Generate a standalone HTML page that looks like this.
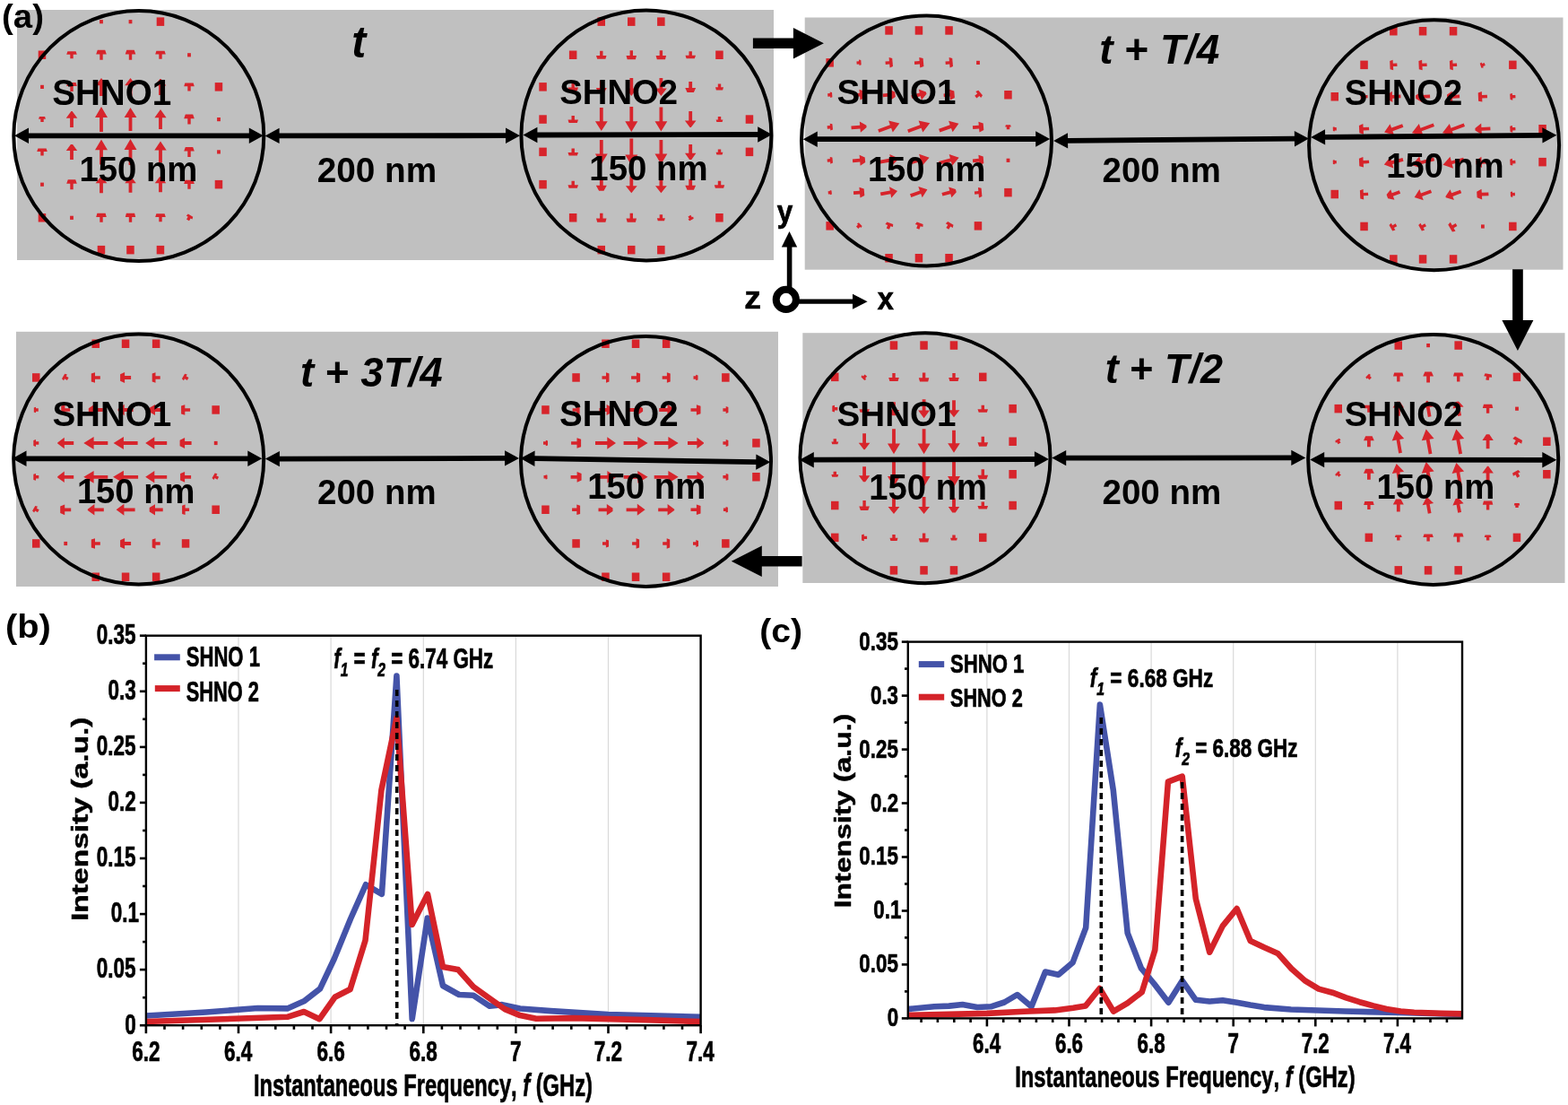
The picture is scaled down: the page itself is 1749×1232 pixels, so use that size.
<!DOCTYPE html>
<html><head><meta charset="utf-8"><style>
html,body{margin:0;padding:0;background:#fff;overflow:hidden;width:1749px;height:1232px;}
svg{display:block;}
text{font-family:"Liberation Sans",Arial,sans-serif;font-weight:bold;font-kerning:none;}
</style></head><body>
<svg width="1749" height="1232" viewBox="0 0 1749 1232">
<rect width="1749" height="1232" fill="#fff"/>
<rect x="19.0" y="11.0" width="844.0" height="279.0" fill="#c0c0c0"/>
<rect x="897.7" y="19.5" width="845.8" height="281.2" fill="#c0c0c0"/>
<rect x="18.0" y="369.8" width="850.0" height="284.2" fill="#c0c0c0"/>
<rect x="895.3" y="371.2" width="850.2" height="278.8" fill="#c0c0c0"/>
<g fill="#d7242b"><rect x="111.1" y="22.1" width="3.8" height="4.2"/><rect x="143.6" y="22.1" width="3.8" height="4.2"/><rect x="174.7" y="19.4" width="8.5" height="9.5"/><rect x="42.7" y="56.5" width="8.5" height="9.5"/><polygon points="78.3,65.3 78.3,60.8 74.2,60.8 75.4,57.3 84.6,57.3 85.8,60.8 81.7,60.8 81.7,65.3"/><polygon points="111.3,66.8 111.3,60.4 107.2,60.4 108.8,55.8 117.2,55.8 118.8,60.4 114.7,60.4 114.7,66.8"/><polygon points="143.8,66.8 143.8,60.4 139.7,60.4 141.3,55.8 149.7,55.8 151.3,60.4 147.2,60.4 147.2,66.8"/><polygon points="177.3,65.8 177.3,60.6 173.2,60.6 174.4,56.8 183.6,56.8 184.8,60.6 180.7,60.6 180.7,65.8"/><rect x="209.1" y="59.2" width="3.8" height="4.2"/><rect x="45.1" y="94.8" width="3.8" height="4.2"/><polygon points="78.3,101.9 78.3,96.1 74.2,96.1 75.4,91.9 84.6,91.9 85.8,96.1 81.7,96.1 81.7,101.9"/><polygon points="111.1,106.9 111.1,95.3 106.6,95.3 113.0,86.9 119.4,95.3 114.9,95.3 114.9,106.9"/><polygon points="143.6,106.9 143.6,95.3 139.1,95.3 145.5,86.9 151.9,95.3 147.4,95.3 147.4,106.9"/><polygon points="177.1,105.9 177.1,95.5 172.7,95.5 178.4,87.9 179.6,87.9 185.3,95.5 180.9,95.5 180.9,105.9"/><polygon points="209.3,101.4 209.3,96.2 205.2,96.2 206.4,92.4 215.6,92.4 216.8,96.2 212.7,96.2 212.7,101.4"/><rect x="239.7" y="92.1" width="8.5" height="9.5"/><polygon points="45.3,136.1 45.3,132.8 43.1,132.8 43.9,130.1 50.1,130.1 50.9,132.8 48.7,132.8 48.7,136.1"/><polygon points="78.1,142.1 78.1,131.7 73.7,131.7 79.4,124.1 80.6,124.1 86.3,131.7 81.9,131.7 81.9,142.1"/><polygon points="111.1,147.1 111.1,130.9 106.0,130.9 113.0,119.1 120.0,130.9 114.9,130.9 114.9,147.1"/><polygon points="143.6,146.1 143.6,131.0 138.6,131.0 145.5,120.1 152.4,131.0 147.4,131.0 147.4,146.1"/><polygon points="177.1,144.1 177.1,131.3 172.4,131.3 179.0,122.1 185.6,131.3 180.9,131.3 180.9,144.1"/><polygon points="209.3,138.6 209.3,132.2 205.2,132.2 206.8,127.6 215.2,127.6 216.8,132.2 212.7,132.2 212.7,138.6"/><rect x="242.1" y="131.0" width="3.8" height="4.2"/><polygon points="45.3,173.4 45.3,168.9 41.2,168.9 42.4,165.4 51.6,165.4 52.8,168.9 48.7,168.9 48.7,173.4"/><polygon points="78.1,177.9 78.1,168.0 73.8,168.0 78.9,160.9 81.1,160.9 86.2,168.0 81.9,168.0 81.9,177.9"/><polygon points="111.1,183.4 111.1,167.2 106.0,167.2 113.0,155.4 120.0,167.2 114.9,167.2 114.9,183.4"/><polygon points="143.6,183.9 143.6,166.9 138.5,166.9 145.5,154.9 152.5,166.9 147.4,166.9 147.4,183.9"/><polygon points="177.1,181.4 177.1,167.5 172.3,167.5 179.0,157.4 185.7,167.5 180.9,167.5 180.9,181.4"/><polygon points="209.3,174.9 209.3,168.5 205.2,168.5 206.8,163.9 215.2,163.9 216.8,168.5 212.7,168.5 212.7,174.9"/><rect x="242.1" y="167.3" width="3.8" height="4.2"/><rect x="45.1" y="203.6" width="3.8" height="4.2"/><polygon points="78.3,211.2 78.3,204.8 74.2,204.8 75.8,200.2 84.2,200.2 85.8,204.8 81.7,204.8 81.7,211.2"/><polygon points="111.1,215.2 111.1,204.2 106.6,204.2 113.0,196.2 119.4,204.2 114.9,204.2 114.9,215.2"/><polygon points="143.6,214.7 143.6,204.3 139.2,204.3 144.9,196.7 146.1,196.7 151.8,204.3 147.4,204.3 147.4,214.7"/><polygon points="177.1,214.2 177.1,204.3 172.8,204.3 177.9,197.2 180.1,197.2 185.2,204.3 180.9,204.3 180.9,214.2"/><polygon points="209.3,210.7 209.3,204.9 205.2,204.9 206.4,200.7 215.6,200.7 216.8,204.9 212.7,204.9 212.7,210.7"/><rect x="239.7" y="200.9" width="8.5" height="9.5"/><rect x="42.7" y="238.0" width="8.5" height="9.5"/><rect x="78.1" y="240.7" width="3.8" height="4.2"/><polygon points="111.3,247.8 111.3,242.0 107.2,242.0 108.4,237.8 117.6,237.8 118.8,242.0 114.7,242.0 114.7,247.8"/><polygon points="143.8,247.8 143.8,242.0 139.8,242.0 140.9,237.8 150.1,237.8 151.2,242.0 147.2,242.0 147.2,247.8"/><polygon points="177.3,247.3 177.3,242.1 173.2,242.1 174.4,238.3 183.6,238.3 184.8,242.1 180.7,242.1 180.7,247.3"/><polygon points="208.0,244.5 209.7,241.7 207.8,240.6 209.8,238.6 215.2,241.8 214.5,244.5 212.6,243.4 211.0,246.2"/><rect x="108.7" y="273.9" width="8.5" height="9.5"/><rect x="141.2" y="273.9" width="8.5" height="9.5"/><rect x="174.7" y="273.9" width="8.5" height="9.5"/></g>
<g fill="#d7242b"><rect x="666.5" y="19.4" width="8.5" height="9.5"/><rect x="700.0" y="19.4" width="8.5" height="9.5"/><rect x="733.1" y="19.4" width="8.5" height="9.5"/><rect x="634.9" y="56.5" width="8.5" height="9.5"/><polygon points="672.5,56.8 672.5,62.0 676.5,62.0 675.4,65.8 666.2,65.8 665.0,62.0 669.1,62.0 669.1,56.8"/><polygon points="706.0,56.3 706.0,62.1 710.0,62.1 708.9,66.3 699.7,66.3 698.5,62.1 702.6,62.1 702.6,56.3"/><polygon points="739.1,56.3 739.1,62.1 743.1,62.1 742.0,66.3 732.8,66.3 731.6,62.1 735.7,62.1 735.7,56.3"/><polygon points="771.9,57.3 771.9,61.8 776.0,61.8 774.8,65.3 765.6,65.3 764.5,61.8 768.5,61.8 768.5,57.3"/><rect x="798.2" y="56.5" width="8.5" height="9.5"/><rect x="601.3" y="92.1" width="8.5" height="9.5"/><polygon points="640.9,92.9 640.9,97.4 645.0,97.4 643.8,100.9 634.6,100.9 633.5,97.4 637.5,97.4 637.5,92.9"/><polygon points="672.7,89.9 672.7,98.0 676.8,98.0 673.5,103.9 668.1,103.9 664.8,98.0 668.9,98.0 668.9,89.9"/><polygon points="706.2,86.9 706.2,98.5 710.7,98.5 704.3,106.9 697.9,98.5 702.4,98.5 702.4,86.9"/><polygon points="739.3,86.9 739.3,98.5 743.8,98.5 737.4,106.9 731.0,98.5 735.5,98.5 735.5,86.9"/><polygon points="772.1,90.9 772.1,97.9 776.1,97.9 773.9,102.9 766.5,102.9 764.3,97.9 768.3,97.9 768.3,90.9"/><polygon points="804.2,93.4 804.2,97.2 807.0,97.2 806.1,100.4 798.9,100.4 798.0,97.2 800.8,97.2 800.8,93.4"/><rect x="601.3" y="128.3" width="8.5" height="9.5"/><polygon points="640.9,129.1 640.9,133.6 645.0,133.6 643.8,137.1 634.6,137.1 633.5,133.6 637.5,133.6 637.5,129.1"/><polygon points="672.7,120.1 672.7,135.2 677.7,135.2 670.8,146.1 663.9,135.2 668.9,135.2 668.9,120.1"/><polygon points="706.2,119.1 706.2,135.3 711.3,135.3 704.3,147.1 697.3,135.3 702.4,135.3 702.4,119.1"/><polygon points="739.3,119.6 739.3,135.3 744.3,135.3 737.4,146.6 730.5,135.3 735.5,135.3 735.5,119.6"/><polygon points="772.1,124.1 772.1,134.5 776.5,134.5 770.8,142.1 769.6,142.1 763.9,134.5 768.3,134.5 768.3,124.1"/><polygon points="804.2,130.1 804.2,133.4 806.4,133.4 805.6,136.1 799.4,136.1 798.6,133.4 800.8,133.4 800.8,130.1"/><rect x="831.7" y="128.3" width="8.5" height="9.5"/><rect x="601.3" y="164.6" width="8.5" height="9.5"/><polygon points="640.9,165.4 640.9,169.9 645.0,169.9 643.8,173.4 634.6,173.4 633.5,169.9 637.5,169.9 637.5,165.4"/><polygon points="672.7,155.9 672.7,171.6 677.7,171.6 670.8,182.9 663.9,171.6 668.9,171.6 668.9,155.9"/><polygon points="706.2,154.4 706.2,172.4 711.3,172.4 704.3,184.4 697.3,172.4 702.4,172.4 702.4,154.4"/><polygon points="739.3,155.9 739.3,171.6 744.3,171.6 737.4,182.9 730.5,171.6 735.5,171.6 735.5,155.9"/><polygon points="772.1,160.9 772.1,170.8 776.4,170.8 771.3,177.9 769.1,177.9 764.0,170.8 768.3,170.8 768.3,160.9"/><polygon points="804.2,166.4 804.2,169.7 806.4,169.7 805.6,172.4 799.4,172.4 798.6,169.7 800.8,169.7 800.8,166.4"/><rect x="831.7" y="164.6" width="8.5" height="9.5"/><rect x="601.3" y="200.9" width="8.5" height="9.5"/><polygon points="640.9,201.7 640.9,206.2 645.0,206.2 643.8,209.7 634.6,209.7 633.5,206.2 637.5,206.2 637.5,201.7"/><polygon points="672.7,198.7 672.7,206.8 676.8,206.8 673.5,212.7 668.1,212.7 664.8,206.8 668.9,206.8 668.9,198.7"/><polygon points="706.2,196.2 706.2,207.2 710.7,207.2 704.3,215.2 697.9,207.2 702.4,207.2 702.4,196.2"/><polygon points="739.3,196.2 739.3,207.2 743.8,207.2 737.4,215.2 731.0,207.2 735.5,207.2 735.5,196.2"/><polygon points="772.1,199.7 772.1,206.7 776.1,206.7 773.9,211.7 766.5,211.7 764.3,206.7 768.3,206.7 768.3,199.7"/><polygon points="804.2,201.7 804.2,206.2 808.2,206.2 807.1,209.7 797.9,209.7 796.8,206.2 800.8,206.2 800.8,201.7"/><rect x="634.9" y="238.0" width="8.5" height="9.5"/><polygon points="672.5,237.8 672.5,243.6 676.5,243.6 675.4,247.8 666.2,247.8 665.0,243.6 669.1,243.6 669.1,237.8"/><polygon points="706.0,237.8 706.0,243.6 710.0,243.6 708.9,247.8 699.7,247.8 698.5,243.6 702.6,243.6 702.6,237.8"/><polygon points="739.1,239.3 739.1,243.2 741.9,243.2 741.0,246.3 733.8,246.3 732.9,243.2 735.7,243.2 735.7,239.3"/><polygon points="770.4,239.8 771.8,242.2 773.1,241.4 773.7,243.7 769.2,246.3 767.5,244.6 768.9,243.9 767.5,241.5"/><rect x="798.2" y="238.0" width="8.5" height="9.5"/><rect x="666.5" y="273.9" width="8.5" height="9.5"/><rect x="700.0" y="273.9" width="8.5" height="9.5"/><rect x="733.1" y="273.9" width="8.5" height="9.5"/></g>
<g fill="#d7242b"><rect x="987.3" y="29.2" width="8.5" height="9.5"/><rect x="1020.7" y="29.2" width="8.5" height="9.5"/><rect x="1054.3" y="29.2" width="8.5" height="9.5"/><rect x="921.4" y="65.1" width="8.5" height="9.5"/><polygon points="955.4,68.4 958.1,68.2 958.0,66.6 960.3,67.1 960.7,72.3 958.5,73.1 958.4,71.6 955.7,71.8"/><polygon points="987.5,68.6 991.9,68.2 991.6,64.1 995.2,65.0 996.0,74.1 992.6,75.6 992.2,71.5 987.8,71.9"/><polygon points="1019.9,68.6 1025.6,68.1 1025.3,64.1 1029.6,64.9 1030.4,74.0 1026.3,75.6 1025.9,71.5 1020.2,72.0"/><polygon points="1054.5,68.6 1058.9,68.2 1058.6,64.1 1062.2,65.0 1063.0,74.1 1059.6,75.6 1059.2,71.5 1054.8,71.9"/><rect x="1089.1" y="67.8" width="3.8" height="4.2"/><polygon points="923.1,104.3 925.8,104.1 925.7,102.5 928.0,103.0 928.4,108.2 926.2,109.0 926.1,107.5 923.4,107.7"/><polygon points="951.9,104.4 958.8,103.8 958.4,99.8 963.7,101.5 964.3,109.0 959.5,111.6 959.1,107.6 952.2,108.2"/><polygon points="984.5,104.5 992.6,103.8 992.2,99.7 998.3,102.5 998.8,107.9 993.2,111.7 992.9,107.6 984.8,108.3"/><polygon points="1016.3,106.2 1025.8,103.6 1024.7,99.4 1032.9,102.5 1033.5,104.7 1027.9,111.5 1026.8,107.3 1017.3,109.8"/><polygon points="1052.5,104.4 1059.4,103.8 1059.0,99.8 1064.3,101.5 1064.9,109.0 1060.1,111.6 1059.7,107.6 1052.8,108.2"/><polygon points="1087.2,106.7 1090.2,104.3 1088.3,102.1 1091.3,100.8 1096.0,106.3 1094.2,109.1 1092.4,106.9 1089.4,109.4"/><rect x="1120.2" y="101.0" width="8.5" height="9.5"/><polygon points="922.6,140.3 925.9,140.0 925.7,137.8 928.4,138.3 929.0,144.5 926.3,145.6 926.1,143.4 922.9,143.7"/><polygon points="949.4,140.5 959.2,139.7 958.8,135.4 966.4,139.8 966.6,142.1 959.9,147.8 959.5,143.5 949.7,144.3"/><polygon points="979.2,144.2 992.8,139.2 991.2,134.6 1003.3,137.4 995.8,147.4 994.1,142.8 980.5,147.8"/><polygon points="1012.1,144.4 1026.3,139.2 1024.6,134.5 1037.2,137.3 1029.3,147.4 1027.6,142.8 1013.4,147.9"/><polygon points="1047.1,143.8 1059.7,139.3 1058.1,134.8 1069.4,137.8 1062.6,147.3 1061.0,142.9 1048.4,147.4"/><polygon points="1084.9,140.3 1091.8,139.7 1091.4,135.7 1096.7,137.4 1097.3,144.9 1092.5,147.5 1092.1,143.5 1085.2,144.1"/><polygon points="1122.8,144.2 1122.8,141.4 1121.2,141.4 1121.9,139.2 1127.1,139.2 1127.8,141.4 1126.2,141.4 1126.2,144.2"/><polygon points="922.6,177.4 925.9,177.1 925.7,174.9 928.4,175.4 929.0,181.6 926.3,182.7 926.1,180.5 922.9,180.8"/><polygon points="950.9,177.5 959.0,176.8 958.6,172.7 964.7,175.5 965.2,180.9 959.6,184.7 959.3,180.6 951.2,181.3"/><polygon points="979.9,178.9 993.1,176.6 992.3,171.9 1002.9,176.8 994.6,185.0 993.7,180.4 980.6,182.7"/><polygon points="1012.9,180.1 1026.4,176.5 1025.1,171.8 1036.6,175.7 1028.6,184.8 1027.3,180.1 1013.9,183.7"/><polygon points="1047.0,179.9 1059.9,176.5 1058.7,171.9 1069.7,175.8 1062.1,184.7 1060.9,180.2 1048.0,183.6"/><polygon points="1084.9,177.4 1091.8,176.8 1091.4,172.8 1096.7,174.5 1097.3,182.0 1092.5,184.6 1092.1,180.6 1085.2,181.2"/><rect x="1122.6" y="176.7" width="3.8" height="4.2"/><polygon points="923.6,213.2 925.8,213.0 925.7,212.1 927.5,212.5 927.9,216.6 926.1,217.3 926.0,216.4 923.9,216.6"/><polygon points="951.9,213.3 958.8,212.7 958.4,208.7 963.7,210.4 964.3,217.9 959.5,220.5 959.1,216.5 952.2,217.1"/><polygon points="981.9,214.5 992.8,212.6 992.0,208.2 1001.0,213.1 994.2,220.7 993.4,216.3 982.6,218.2"/><polygon points="1015.0,216.3 1025.9,212.4 1024.3,208.1 1034.4,211.3 1028.7,220.2 1027.2,215.9 1016.3,219.9"/><polygon points="1050.4,214.9 1059.3,212.5 1058.2,208.4 1065.9,211.0 1066.8,214.3 1061.4,220.3 1060.3,216.2 1051.4,218.6"/><polygon points="1086.9,213.4 1091.3,213.0 1091.0,208.9 1094.6,209.8 1095.4,218.9 1092.0,220.4 1091.6,216.3 1087.2,216.7"/><rect x="1120.2" y="209.9" width="8.5" height="9.5"/><rect x="921.4" y="247.1" width="8.5" height="9.5"/><polygon points="955.0,252.5 957.0,250.5 955.9,249.4 957.9,248.3 961.6,252.0 960.5,254.0 959.4,252.9 957.4,254.9"/><polygon points="988.8,254.6 990.1,251.0 987.4,250.0 989.4,247.4 996.2,249.9 996.0,253.1 993.3,252.2 992.0,255.8"/><polygon points="1022.2,254.6 1023.5,251.0 1020.8,250.0 1022.8,247.4 1029.6,249.9 1029.4,253.1 1026.7,252.2 1025.4,255.8"/><polygon points="1055.4,254.1 1057.3,250.7 1054.8,249.3 1057.2,247.0 1063.5,250.7 1062.7,253.9 1060.2,252.4 1058.3,255.8"/><rect x="1086.7" y="247.1" width="8.5" height="9.5"/><rect x="987.3" y="283.0" width="8.5" height="9.5"/><rect x="1020.7" y="283.0" width="8.5" height="9.5"/><rect x="1054.3" y="283.0" width="8.5" height="9.5"/></g>
<g fill="#d7242b"><rect x="1550.1" y="30.0" width="8.5" height="9.5"/><rect x="1582.8" y="30.0" width="8.5" height="9.5"/><rect x="1616.8" y="30.0" width="8.5" height="9.5"/><rect x="1517.3" y="67.6" width="8.5" height="9.5"/><polygon points="1558.5,73.9 1554.0,74.1 1554.2,78.2 1550.6,77.2 1550.2,68.0 1553.6,66.7 1553.8,70.7 1558.3,70.5"/><polygon points="1591.7,73.9 1586.5,74.1 1586.7,78.2 1582.8,77.2 1582.4,68.0 1586.1,66.7 1586.3,70.7 1591.5,70.5"/><polygon points="1625.2,73.9 1620.7,74.1 1620.9,78.2 1617.3,77.2 1616.9,68.0 1620.3,66.7 1620.5,70.7 1625.0,70.5"/><polygon points="1656.8,73.1 1654.2,74.1 1654.8,75.5 1652.4,75.7 1650.7,70.8 1652.6,69.4 1653.1,70.9 1655.7,69.9"/><rect x="1683.1" y="67.6" width="8.5" height="9.5"/><rect x="1484.5" y="103.0" width="8.5" height="9.5"/><polygon points="1525.7,109.3 1521.2,109.5 1521.4,113.6 1517.8,112.6 1517.4,103.4 1520.8,102.1 1521.0,106.1 1525.5,105.9"/><polygon points="1562.5,109.3 1553.2,109.8 1553.4,114.0 1546.5,109.9 1546.3,106.5 1552.8,101.7 1553.0,106.0 1562.3,105.5"/><polygon points="1595.2,109.3 1585.9,109.8 1586.1,114.0 1579.2,109.9 1579.0,106.5 1585.5,101.7 1585.7,106.0 1595.0,105.5"/><polygon points="1628.2,109.3 1620.1,109.8 1620.3,113.9 1614.3,110.9 1614.0,105.4 1619.7,101.8 1619.9,106.0 1628.0,105.5"/><polygon points="1659.0,109.2 1653.2,109.5 1653.4,113.6 1649.1,112.7 1648.7,103.5 1652.8,102.1 1653.0,106.1 1658.8,105.8"/><polygon points="1690.5,109.3 1687.2,109.5 1687.3,111.7 1684.6,111.1 1684.2,104.8 1686.9,103.9 1687.0,106.1 1690.3,105.9"/><polygon points="1490.9,145.4 1488.7,145.5 1488.7,146.4 1486.9,146.0 1486.7,141.8 1488.5,141.2 1488.5,142.1 1490.7,142.0"/><polygon points="1527.2,145.2 1520.8,145.5 1521.0,149.7 1516.3,148.3 1515.9,139.9 1520.4,138.0 1520.6,142.1 1527.0,141.8"/><polygon points="1565.4,141.8 1553.4,146.2 1555.0,150.6 1544.1,147.6 1550.5,138.2 1552.1,142.6 1564.1,138.3"/><polygon points="1600.0,141.1 1585.8,146.3 1587.5,151.0 1574.9,148.2 1582.8,138.1 1584.5,142.7 1598.7,137.6"/><polygon points="1634.0,141.1 1619.8,146.3 1621.5,151.0 1608.9,148.2 1616.8,138.1 1618.5,142.7 1632.7,137.6"/><polygon points="1662.5,145.3 1652.6,145.8 1652.9,150.1 1645.5,145.4 1645.4,143.1 1652.2,137.6 1652.4,142.0 1662.3,141.5"/><polygon points="1690.5,145.3 1687.2,145.5 1687.3,147.7 1684.6,147.1 1684.2,140.8 1686.9,139.9 1687.0,142.1 1690.3,141.9"/><rect x="1716.3" y="139.0" width="8.5" height="9.5"/><polygon points="1490.9,182.3 1488.7,182.4 1488.7,183.3 1486.9,182.9 1486.7,178.7 1488.5,178.1 1488.5,179.0 1490.7,178.9"/><polygon points="1527.2,182.1 1520.8,182.4 1521.0,186.6 1516.3,185.2 1515.9,176.8 1520.4,174.9 1520.6,179.0 1527.0,178.7"/><polygon points="1565.5,179.7 1553.2,183.0 1554.4,187.5 1543.8,183.5 1551.0,174.8 1552.2,179.3 1564.5,176.0"/><polygon points="1600.1,179.2 1585.6,183.1 1586.9,187.9 1574.5,184.1 1583.3,174.6 1584.6,179.4 1599.2,175.5"/><polygon points="1633.2,179.4 1619.7,183.0 1621.0,187.7 1609.5,183.8 1617.5,174.7 1618.8,179.4 1632.2,175.8"/><polygon points="1661.5,182.2 1652.8,182.7 1653.0,186.9 1646.5,183.3 1646.3,178.9 1652.4,174.7 1652.6,178.9 1661.3,178.4"/><polygon points="1690.5,182.2 1687.2,182.4 1687.3,184.6 1684.6,184.0 1684.2,177.7 1686.9,176.8 1687.0,179.0 1690.3,178.8"/><rect x="1716.3" y="175.9" width="8.5" height="9.5"/><rect x="1484.5" y="211.8" width="8.5" height="9.5"/><polygon points="1526.2,218.1 1521.0,218.3 1521.2,222.4 1517.3,221.4 1516.9,212.2 1520.6,210.9 1520.8,214.9 1526.0,214.7"/><polygon points="1562.1,215.8 1553.9,218.8 1555.4,222.7 1548.1,221.2 1546.6,217.1 1551.2,211.3 1552.6,215.2 1560.8,212.2"/><polygon points="1597.1,215.0 1586.2,218.9 1587.8,223.2 1577.7,220.0 1583.4,211.1 1584.9,215.4 1595.8,211.4"/><polygon points="1630.2,215.3 1620.4,218.9 1621.9,223.0 1612.8,220.2 1612.4,219.1 1617.6,211.2 1619.1,215.3 1628.9,211.7"/><polygon points="1660.5,218.2 1653.0,218.6 1653.2,222.6 1647.6,220.2 1647.2,213.7 1652.5,210.7 1652.8,214.8 1660.3,214.4"/><polygon points="1690.0,218.2 1687.2,218.3 1687.3,219.9 1685.0,219.3 1684.8,214.1 1687.0,213.4 1687.1,214.9 1689.8,214.8"/><rect x="1517.3" y="247.7" width="8.5" height="9.5"/><polygon points="1558.3,252.2 1554.9,254.1 1556.4,256.6 1553.2,257.4 1549.5,251.1 1551.8,248.7 1553.2,251.2 1556.6,249.3"/><polygon points="1591.0,252.2 1587.6,254.1 1589.1,256.6 1585.9,257.4 1582.2,251.1 1584.5,248.7 1585.9,251.2 1589.3,249.3"/><polygon points="1625.4,252.0 1621.5,254.2 1623.5,257.7 1619.9,258.5 1615.3,250.5 1617.8,247.8 1619.8,251.3 1623.7,249.0"/><rect x="1652.0" y="250.4" width="3.8" height="4.2"/><rect x="1683.1" y="247.7" width="8.5" height="9.5"/><rect x="1550.1" y="284.2" width="8.5" height="9.5"/><rect x="1582.8" y="284.2" width="8.5" height="9.5"/><rect x="1616.8" y="284.2" width="8.5" height="9.5"/></g>
<g fill="#d7242b"><rect x="102.5" y="378.5" width="8.5" height="9.5"/><rect x="135.8" y="378.5" width="8.5" height="9.5"/><rect x="169.9" y="378.5" width="8.5" height="9.5"/><rect x="36.0" y="416.2" width="8.5" height="9.5"/><polygon points="74.9,424.0 72.1,422.3 71.0,424.2 69.0,422.2 72.2,416.8 74.9,417.5 73.8,419.4 76.6,421.0"/><polygon points="111.8,422.7 106.0,422.7 106.0,426.8 101.8,425.6 101.8,416.4 106.0,415.2 106.0,419.3 111.8,419.3"/><polygon points="146.1,422.9 139.1,422.9 139.1,426.9 134.1,424.7 134.1,417.3 139.1,415.1 139.1,419.1 146.1,419.1"/><polygon points="178.7,422.7 173.5,422.7 173.5,426.8 169.7,425.6 169.7,416.4 173.5,415.2 173.5,419.3 178.7,419.3"/><polygon points="208.8,424.0 206.0,422.3 204.9,424.2 202.9,422.2 206.1,416.8 208.8,417.5 207.7,419.4 210.5,421.0"/><polygon points="42.8,458.7 40.0,458.7 40.0,460.2 37.8,459.6 37.8,454.4 40.0,453.8 40.0,455.3 42.8,455.3"/><polygon points="78.2,458.7 72.4,458.7 72.4,462.8 68.2,461.6 68.2,452.4 72.4,451.2 72.4,455.3 78.2,455.3"/><polygon points="114.8,458.9 105.5,458.9 105.5,463.2 98.8,458.7 98.8,455.3 105.5,450.8 105.5,455.1 114.8,455.1"/><polygon points="148.6,458.9 138.7,458.9 138.7,463.2 131.6,458.1 131.6,455.9 138.7,450.8 138.7,455.1 148.6,455.1"/><polygon points="181.7,458.9 173.0,458.9 173.0,463.1 166.7,459.2 166.7,454.8 173.0,450.9 173.0,455.1 181.7,455.1"/><polygon points="212.1,458.7 206.3,458.7 206.3,462.8 202.1,461.6 202.1,452.4 206.3,451.2 206.3,455.3 212.1,455.3"/><rect x="236.4" y="452.2" width="8.5" height="9.5"/><polygon points="43.3,495.7 40.0,495.7 40.0,497.9 37.3,497.1 37.3,490.9 40.0,490.1 40.0,492.3 43.3,492.3"/><polygon points="82.2,495.9 71.8,495.9 71.8,500.3 64.2,494.6 64.2,493.4 71.8,487.7 71.8,492.1 82.2,492.1"/><polygon points="120.3,495.9 104.6,495.9 104.6,500.9 93.3,494.0 104.6,487.1 104.6,492.1 120.3,492.1"/><polygon points="153.6,495.9 137.9,495.9 137.9,500.9 126.6,494.0 137.9,487.1 137.9,492.1 153.6,492.1"/><polygon points="186.2,495.9 172.3,495.9 172.3,500.7 162.2,494.0 172.3,487.3 172.3,492.1 186.2,492.1"/><polygon points="213.6,495.9 206.1,495.9 206.1,500.0 200.6,497.2 200.6,490.8 206.1,488.0 206.1,492.1 213.6,492.1"/><rect x="238.8" y="491.9" width="3.8" height="4.2"/><polygon points="43.3,533.5 40.0,533.5 40.0,535.7 37.3,534.9 37.3,528.7 40.0,527.9 40.0,530.1 43.3,530.1"/><polygon points="82.2,533.7 71.8,533.7 71.8,538.1 64.2,532.4 64.2,531.2 71.8,525.5 71.8,529.9 82.2,529.9"/><polygon points="120.3,533.7 104.6,533.7 104.6,538.7 93.3,531.8 104.6,524.9 104.6,529.9 120.3,529.9"/><polygon points="154.1,533.7 137.9,533.7 137.9,538.8 126.1,531.8 137.9,524.8 137.9,529.9 154.1,529.9"/><polygon points="186.2,533.7 172.3,533.7 172.3,538.5 162.2,531.8 172.3,525.1 172.3,529.9 186.2,529.9"/><polygon points="213.1,533.7 206.1,533.7 206.1,537.7 201.1,535.5 201.1,528.1 206.1,525.9 206.1,529.9 213.1,529.9"/><polygon points="242.4,534.8 239.6,533.1 238.5,535.0 236.5,533.0 239.7,527.6 242.4,528.3 241.3,530.2 244.1,531.8"/><polygon points="42.0,571.3 39.2,569.6 38.1,571.5 36.1,569.5 39.3,564.1 42.0,564.8 40.9,566.7 43.7,568.3"/><polygon points="79.2,570.2 72.2,570.2 72.2,574.2 67.2,572.0 67.2,564.6 72.2,562.4 72.2,566.4 79.2,566.4"/><polygon points="115.8,570.2 105.4,570.2 105.4,574.6 97.8,568.9 97.8,567.7 105.4,562.0 105.4,566.4 115.8,566.4"/><polygon points="150.6,570.2 138.4,570.2 138.4,574.8 129.6,568.3 138.4,561.8 138.4,566.4 150.6,566.4"/><polygon points="181.7,570.2 173.0,570.2 173.0,574.4 166.7,570.5 166.7,566.1 173.0,562.2 173.0,566.4 181.7,566.4"/><polygon points="211.1,570.0 206.6,570.0 206.6,574.0 203.1,572.9 203.1,563.7 206.6,562.5 206.6,566.6 211.1,566.6"/><rect x="236.4" y="563.5" width="8.5" height="9.5"/><rect x="36.0" y="601.2" width="8.5" height="9.5"/><rect x="71.3" y="603.9" width="3.8" height="4.2"/><polygon points="111.8,607.7 106.0,607.7 106.0,611.8 101.8,610.6 101.8,601.4 106.0,600.2 106.0,604.3 111.8,604.3"/><polygon points="146.1,607.9 139.1,607.9 139.1,611.9 134.1,609.7 134.1,602.3 139.1,600.1 139.1,604.1 146.1,604.1"/><polygon points="178.7,607.7 173.5,607.7 173.5,611.8 169.7,610.6 169.7,601.4 173.5,600.2 173.5,604.3 178.7,604.3"/><rect x="202.8" y="601.2" width="8.5" height="9.5"/><rect x="102.5" y="638.5" width="8.5" height="9.5"/><rect x="135.8" y="638.5" width="8.5" height="9.5"/><rect x="169.9" y="638.5" width="8.5" height="9.5"/></g>
<g fill="#d7242b"><rect x="671.2" y="378.5" width="8.5" height="9.5"/><rect x="704.8" y="378.5" width="8.5" height="9.5"/><rect x="738.9" y="378.5" width="8.5" height="9.5"/><rect x="638.3" y="416.2" width="8.5" height="9.5"/><polygon points="671.5,419.3 676.0,419.3 676.0,415.2 679.5,416.4 679.5,425.6 676.0,426.8 676.0,422.7 671.5,422.7"/><polygon points="704.1,419.3 709.9,419.3 709.9,415.2 714.1,416.4 714.1,425.6 709.9,426.8 709.9,422.7 704.1,422.7"/><polygon points="738.7,419.3 743.9,419.3 743.9,415.2 747.7,416.4 747.7,425.6 743.9,426.8 743.9,422.7 738.7,422.7"/><polygon points="773.5,419.3 776.2,419.3 776.2,417.8 778.5,418.4 778.5,423.6 776.2,424.2 776.2,422.7 773.5,422.7"/><rect x="805.1" y="416.2" width="8.5" height="9.5"/><rect x="604.2" y="452.2" width="8.5" height="9.5"/><polygon points="638.6,455.3 643.1,455.3 643.1,451.2 646.6,452.4 646.6,461.6 643.1,462.8 643.1,458.7 638.6,458.7"/><polygon points="668.5,455.1 676.6,455.1 676.6,451.0 682.5,454.3 682.5,459.7 676.6,463.0 676.6,458.9 668.5,458.9"/><polygon points="701.1,455.1 710.4,455.1 710.4,450.8 717.1,455.3 717.1,458.7 710.4,463.2 710.4,458.9 701.1,458.9"/><polygon points="735.2,455.1 744.5,455.1 744.5,450.8 751.2,455.3 751.2,458.7 744.5,463.2 744.5,458.9 735.2,458.9"/><polygon points="770.5,455.3 776.9,455.3 776.9,451.2 781.5,452.8 781.5,461.2 776.9,462.8 776.9,458.7 770.5,458.7"/><polygon points="806.4,455.3 809.7,455.3 809.7,453.1 812.4,453.9 812.4,460.1 809.7,460.9 809.7,458.7 806.4,458.7"/><polygon points="606.0,492.3 608.8,492.3 608.8,490.8 611.0,491.4 611.0,496.6 608.8,497.2 608.8,495.7 606.0,495.7"/><polygon points="637.1,492.3 643.5,492.3 643.5,488.2 648.1,489.8 648.1,498.2 643.5,499.8 643.5,495.7 637.1,495.7"/><polygon points="664.0,492.1 677.3,492.1 677.3,487.3 687.0,494.0 677.3,500.7 677.3,495.9 664.0,495.9"/><polygon points="695.6,492.1 711.3,492.1 711.3,487.1 722.6,494.0 711.3,500.9 711.3,495.9 695.6,495.9"/><polygon points="729.7,492.1 745.4,492.1 745.4,487.1 756.7,494.0 745.4,500.9 745.4,495.9 729.7,495.9"/><polygon points="767.0,492.1 777.4,492.1 777.4,487.7 785.0,493.4 785.0,494.6 777.4,500.3 777.4,495.9 767.0,495.9"/><polygon points="806.4,492.3 809.7,492.3 809.7,490.1 812.4,490.9 812.4,497.1 809.7,497.9 809.7,495.7 806.4,495.7"/><rect x="839.2" y="489.2" width="8.5" height="9.5"/><polygon points="606.5,530.1 608.7,530.1 608.7,529.2 610.5,529.7 610.5,533.9 608.7,534.4 608.7,533.5 606.5,533.5"/><polygon points="636.6,529.9 643.6,529.9 643.6,525.9 648.6,528.1 648.6,535.5 643.6,537.7 643.6,533.7 636.6,533.7"/><polygon points="663.5,529.9 677.4,529.9 677.4,525.1 687.5,531.8 677.4,538.5 677.4,533.7 663.5,533.7"/><polygon points="695.6,529.9 711.3,529.9 711.3,524.9 722.6,531.8 711.3,538.7 711.3,533.7 695.6,533.7"/><polygon points="729.7,529.9 745.4,529.9 745.4,524.9 756.7,531.8 745.4,538.7 745.4,533.7 729.7,533.7"/><polygon points="766.5,529.9 777.5,529.9 777.5,525.4 785.5,531.8 777.5,538.2 777.5,533.7 766.5,533.7"/><polygon points="806.4,530.1 809.7,530.1 809.7,527.9 812.4,528.7 812.4,534.9 809.7,535.7 809.7,533.5 806.4,533.5"/><rect x="839.2" y="527.0" width="8.5" height="9.5"/><rect x="604.2" y="563.5" width="8.5" height="9.5"/><polygon points="638.1,566.6 643.3,566.6 643.3,562.5 647.1,563.7 647.1,572.9 643.3,574.0 643.3,570.0 638.1,570.0"/><polygon points="667.5,566.4 676.8,566.4 676.8,562.1 683.5,566.6 683.5,570.0 676.8,574.5 676.8,570.2 667.5,570.2"/><polygon points="698.6,566.4 710.8,566.4 710.8,561.8 719.6,568.3 710.8,574.8 710.8,570.2 698.6,570.2"/><polygon points="734.2,566.4 744.6,566.4 744.6,562.0 752.2,567.7 752.2,568.9 744.6,574.6 744.6,570.2 734.2,570.2"/><polygon points="770.5,566.6 776.9,566.6 776.9,562.5 781.5,564.1 781.5,572.5 776.9,574.1 776.9,570.0 770.5,570.0"/><polygon points="806.9,566.6 809.6,566.6 809.6,565.0 811.9,565.7 811.9,570.9 809.6,571.5 809.6,570.0 806.9,570.0"/><rect x="638.3" y="601.2" width="8.5" height="9.5"/><polygon points="672.0,604.3 675.9,604.3 675.9,601.5 679.0,602.4 679.0,609.6 675.9,610.5 675.9,607.7 672.0,607.7"/><polygon points="705.1,604.3 709.6,604.3 709.6,600.2 713.1,601.4 713.1,610.6 709.6,611.8 709.6,607.7 705.1,607.7"/><polygon points="739.2,604.3 743.7,604.3 743.7,600.2 747.2,601.4 747.2,610.6 743.7,611.8 743.7,607.7 739.2,607.7"/><polygon points="773.0,604.3 776.3,604.3 776.3,602.1 779.0,602.9 779.0,609.1 776.3,609.9 776.3,607.7 773.0,607.7"/><rect x="805.1" y="601.2" width="8.5" height="9.5"/><rect x="671.2" y="638.5" width="8.5" height="9.5"/><rect x="704.8" y="638.5" width="8.5" height="9.5"/><rect x="738.9" y="638.5" width="8.5" height="9.5"/></g>
<g fill="#d7242b"><rect x="992.7" y="380.3" width="8.5" height="9.5"/><rect x="1026.3" y="380.3" width="8.5" height="9.5"/><rect x="1059.7" y="380.3" width="8.5" height="9.5"/><rect x="927.0" y="415.6" width="8.5" height="9.5"/><polygon points="967.1,419.8 965.1,421.8 966.2,422.9 964.2,424.0 960.5,420.3 961.6,418.3 962.7,419.4 964.7,417.4"/><polygon points="998.7,415.9 998.7,421.1 1002.8,421.1 1001.6,424.9 992.4,424.9 991.2,421.1 995.3,421.1 995.3,415.9"/><polygon points="1032.3,415.4 1032.3,421.2 1036.3,421.2 1035.2,425.4 1026.0,425.4 1024.8,421.2 1028.9,421.2 1028.9,415.4"/><polygon points="1065.7,415.9 1065.7,421.1 1069.8,421.1 1068.6,424.9 1059.4,424.9 1058.2,421.1 1062.3,421.1 1062.3,415.9"/><rect x="1092.0" y="415.6" width="8.5" height="9.5"/><polygon points="934.3,457.4 931.0,457.4 931.0,459.6 928.3,458.8 928.3,452.6 931.0,451.8 931.0,454.0 934.3,454.0"/><polygon points="965.8,451.7 965.8,456.2 969.9,456.2 968.7,459.7 959.5,459.7 958.4,456.2 962.4,456.2 962.4,451.7"/><polygon points="998.9,448.2 998.9,456.9 1003.1,456.9 999.2,463.2 994.8,463.2 990.9,456.9 995.1,456.9 995.1,448.2"/><polygon points="1032.5,445.2 1032.5,457.4 1037.1,457.4 1030.6,466.2 1024.1,457.4 1028.7,457.4 1028.7,445.2"/><polygon points="1065.9,446.2 1065.9,457.2 1070.4,457.2 1064.0,465.2 1057.6,457.2 1062.1,457.2 1062.1,446.2"/><polygon points="1098.0,451.7 1098.0,456.2 1102.0,456.2 1100.9,459.7 1091.7,459.7 1090.5,456.2 1094.6,456.2 1094.6,451.7"/><rect x="1125.4" y="450.9" width="8.5" height="9.5"/><polygon points="933.0,489.3 933.0,492.6 935.2,492.6 934.4,495.3 928.2,495.3 927.4,492.6 929.6,492.6 929.6,489.3"/><polygon points="966.0,483.3 966.0,493.7 970.4,493.7 964.7,501.3 963.5,501.3 957.8,493.7 962.2,493.7 962.2,483.3"/><polygon points="998.9,478.3 998.9,494.5 1004.0,494.5 997.0,506.3 990.0,494.5 995.1,494.5 995.1,478.3"/><polygon points="1032.5,478.3 1032.5,494.5 1037.6,494.5 1030.6,506.3 1023.6,494.5 1028.7,494.5 1028.7,478.3"/><polygon points="1065.9,479.8 1065.9,494.3 1070.8,494.3 1064.0,504.8 1057.2,494.3 1062.1,494.3 1062.1,479.8"/><polygon points="1098.0,486.8 1098.0,493.2 1102.1,493.2 1100.5,497.8 1092.1,497.8 1090.5,493.2 1094.6,493.2 1094.6,486.8"/><rect x="1125.4" y="487.5" width="8.5" height="9.5"/><polygon points="933.0,525.8 933.0,529.1 935.2,529.1 934.4,531.8 928.2,531.8 927.4,529.1 929.6,529.1 929.6,525.8"/><polygon points="966.0,520.3 966.0,530.2 970.3,530.2 965.2,537.3 963.0,537.3 957.9,530.2 962.2,530.2 962.2,520.3"/><polygon points="998.9,514.8 998.9,531.0 1004.0,531.0 997.0,542.8 990.0,531.0 995.1,531.0 995.1,514.8"/><polygon points="1032.5,514.8 1032.5,531.0 1037.6,531.0 1030.6,542.8 1023.6,531.0 1028.7,531.0 1028.7,514.8"/><polygon points="1065.9,514.8 1065.9,531.0 1071.0,531.0 1064.0,542.8 1057.0,531.0 1062.1,531.0 1062.1,514.8"/><polygon points="1098.0,523.3 1098.0,529.7 1102.1,529.7 1100.5,534.3 1092.1,534.3 1090.5,529.7 1094.6,529.7 1094.6,523.3"/><rect x="1125.4" y="524.0" width="8.5" height="9.5"/><rect x="927.0" y="558.8" width="8.5" height="9.5"/><polygon points="965.8,558.1 965.8,564.5 969.9,564.5 968.3,569.1 959.9,569.1 958.3,564.5 962.4,564.5 962.4,558.1"/><polygon points="998.9,554.1 998.9,565.1 1003.4,565.1 997.0,573.1 990.6,565.1 995.1,565.1 995.1,554.1"/><polygon points="1032.5,554.1 1032.5,565.1 1037.0,565.1 1030.6,573.1 1024.2,565.1 1028.7,565.1 1028.7,554.1"/><polygon points="1065.9,555.6 1065.9,564.9 1070.2,564.9 1065.7,571.6 1062.3,571.6 1057.8,564.9 1062.1,564.9 1062.1,555.6"/><polygon points="1098.0,559.6 1098.0,564.1 1102.0,564.1 1100.9,567.6 1091.7,567.6 1090.5,564.1 1094.6,564.1 1094.6,559.6"/><rect x="1125.4" y="558.8" width="8.5" height="9.5"/><rect x="927.0" y="594.6" width="8.5" height="9.5"/><polygon points="967.1,601.1 963.8,601.1 963.8,603.3 961.1,602.5 961.1,596.3 963.8,595.5 963.8,597.7 967.1,597.7"/><polygon points="998.7,595.9 998.7,599.8 1001.5,599.8 1000.6,602.9 993.4,602.9 992.5,599.8 995.3,599.8 995.3,595.9"/><polygon points="1032.3,594.4 1032.3,600.2 1036.3,600.2 1035.2,604.4 1026.0,604.4 1024.8,600.2 1028.9,600.2 1028.9,594.4"/><polygon points="1065.7,596.4 1065.7,599.7 1067.9,599.7 1067.1,602.4 1060.9,602.4 1060.1,599.7 1062.3,599.7 1062.3,596.4"/><rect x="1092.0" y="594.6" width="8.5" height="9.5"/><rect x="992.7" y="631.1" width="8.5" height="9.5"/><rect x="1026.3" y="631.1" width="8.5" height="9.5"/><rect x="1059.7" y="631.1" width="8.5" height="9.5"/></g>
<g fill="#d7242b"><rect x="1555.5" y="380.3" width="8.5" height="9.5"/><rect x="1591.2" y="383.0" width="3.8" height="4.2"/><rect x="1622.4" y="380.3" width="8.5" height="9.5"/><polygon points="1527.5,423.4 1525.5,421.4 1524.4,422.5 1523.3,420.5 1527.0,416.8 1529.0,417.9 1527.9,419.0 1529.9,421.0"/><polygon points="1558.1,425.4 1558.1,419.6 1554.0,419.6 1555.2,415.4 1564.4,415.4 1565.5,419.6 1561.5,419.6 1561.5,425.4"/><polygon points="1591.2,426.4 1591.2,419.4 1587.2,419.4 1589.4,414.4 1596.8,414.4 1599.0,419.4 1595.0,419.4 1595.0,426.4"/><polygon points="1625.0,425.4 1625.0,419.6 1621.0,419.6 1622.1,415.4 1631.3,415.4 1632.5,419.6 1628.4,419.6 1628.4,425.4"/><polygon points="1657.3,423.6 1658.0,419.8 1655.2,419.3 1656.6,416.3 1663.8,417.6 1664.1,420.8 1661.3,420.4 1660.7,424.1"/><rect x="1687.7" y="415.6" width="8.5" height="9.5"/><rect x="1488.5" y="450.9" width="8.5" height="9.5"/><polygon points="1525.2,459.7 1525.2,455.2 1521.2,455.2 1522.3,451.7 1531.5,451.7 1532.7,455.2 1528.6,455.2 1528.6,459.7"/><polygon points="1557.9,463.7 1557.9,454.4 1553.6,454.4 1558.1,447.7 1561.5,447.7 1566.0,454.4 1561.7,454.4 1561.7,463.7"/><polygon points="1592.8,464.9 1591.0,454.6 1586.6,455.4 1591.0,446.9 1592.1,446.7 1599.1,453.2 1594.7,454.0 1596.5,464.2"/><polygon points="1626.2,463.9 1624.6,454.8 1620.4,455.5 1623.7,448.1 1627.0,447.5 1632.6,453.4 1628.3,454.1 1630.0,463.2"/><polygon points="1657.9,460.7 1657.9,454.9 1653.8,454.9 1655.0,450.7 1664.2,450.7 1665.3,454.9 1661.3,454.9 1661.3,460.7"/><rect x="1690.1" y="453.6" width="3.8" height="4.2"/><polygon points="1492.6,495.3 1491.2,492.9 1489.9,493.7 1489.3,491.4 1493.8,488.8 1495.5,490.5 1494.1,491.2 1495.5,493.6"/><polygon points="1525.0,498.3 1525.0,491.3 1521.0,491.3 1523.2,486.3 1530.6,486.3 1532.8,491.3 1528.8,491.3 1528.8,498.3"/><polygon points="1560.2,505.4 1557.6,490.6 1552.7,491.4 1557.5,479.5 1566.2,489.1 1561.3,489.9 1563.9,504.8"/><polygon points="1593.7,506.4 1590.8,490.4 1585.8,491.3 1590.7,478.5 1599.6,488.9 1594.6,489.8 1597.4,505.8"/><polygon points="1627.3,506.4 1624.4,490.4 1619.4,491.3 1624.3,478.5 1633.2,488.9 1628.2,489.8 1631.0,505.8"/><polygon points="1657.7,500.3 1657.7,491.0 1653.4,491.0 1657.9,484.3 1661.3,484.3 1665.8,491.0 1661.5,491.0 1661.5,500.3"/><polygon points="1688.5,494.9 1690.8,491.0 1687.3,489.0 1690.0,486.5 1698.0,491.1 1697.2,494.7 1693.7,492.7 1691.5,496.6"/><rect x="1721.1" y="487.5" width="8.5" height="9.5"/><polygon points="1493.4,531.8 1491.4,529.8 1490.3,530.9 1489.2,528.9 1492.9,525.2 1494.9,526.3 1493.8,527.4 1495.8,529.4"/><polygon points="1525.0,534.8 1525.0,527.8 1521.0,527.8 1523.2,522.8 1530.6,522.8 1532.8,527.8 1528.8,527.8 1528.8,534.8"/><polygon points="1560.0,540.9 1557.6,527.2 1552.8,528.1 1557.7,517.0 1566.1,525.7 1561.3,526.6 1563.8,540.3"/><polygon points="1593.7,542.9 1590.8,526.9 1585.8,527.8 1590.7,515.0 1599.6,525.4 1594.6,526.3 1597.4,542.3"/><polygon points="1627.1,541.9 1624.5,527.1 1619.6,527.9 1624.4,516.0 1633.1,525.6 1628.2,526.4 1630.8,541.3"/><polygon points="1657.7,537.8 1657.7,527.4 1653.3,527.4 1659.0,519.8 1660.2,519.8 1665.9,527.4 1661.5,527.4 1661.5,537.8"/><polygon points="1692.3,532.7 1690.4,529.3 1687.9,530.8 1687.1,527.6 1693.4,523.9 1695.8,526.2 1693.3,527.6 1695.2,531.0"/><rect x="1721.1" y="524.0" width="8.5" height="9.5"/><rect x="1488.5" y="558.8" width="8.5" height="9.5"/><polygon points="1525.2,568.1 1525.2,562.9 1521.2,562.9 1522.3,559.1 1531.5,559.1 1532.7,562.9 1528.6,562.9 1528.6,568.1"/><polygon points="1557.9,570.6 1557.9,562.5 1553.8,562.5 1557.1,556.6 1562.5,556.6 1565.8,562.5 1561.7,562.5 1561.7,570.6"/><polygon points="1592.8,572.8 1591.0,562.5 1586.6,563.3 1591.0,554.8 1592.1,554.6 1599.1,561.1 1594.7,561.9 1596.5,572.1"/><polygon points="1626.2,571.8 1624.6,562.7 1620.4,563.4 1623.7,556.0 1627.0,555.4 1632.6,561.3 1628.3,562.0 1630.0,571.1"/><polygon points="1657.9,568.6 1657.9,562.8 1653.8,562.8 1655.0,558.6 1664.2,558.6 1665.3,562.8 1661.3,562.8 1661.3,568.6"/><polygon points="1690.3,566.1 1690.3,563.4 1688.8,563.4 1689.4,561.1 1694.6,561.1 1695.2,563.4 1693.7,563.4 1693.7,566.1"/><rect x="1522.6" y="594.6" width="8.5" height="9.5"/><polygon points="1558.1,602.4 1558.1,599.1 1555.9,599.1 1556.7,596.4 1562.9,596.4 1563.7,599.1 1561.5,599.1 1561.5,602.4"/><polygon points="1591.4,603.4 1591.4,598.9 1587.3,598.9 1588.5,595.4 1597.7,595.4 1598.8,598.9 1594.8,598.9 1594.8,603.4"/><polygon points="1625.0,604.4 1625.0,598.6 1621.0,598.6 1622.1,594.4 1631.3,594.4 1632.5,598.6 1628.4,598.6 1628.4,604.4"/><polygon points="1657.9,602.4 1657.9,599.1 1655.7,599.1 1656.5,596.4 1662.7,596.4 1663.5,599.1 1661.3,599.1 1661.3,602.4"/><rect x="1687.7" y="594.6" width="8.5" height="9.5"/><rect x="1555.5" y="631.1" width="8.5" height="9.5"/><rect x="1588.8" y="631.1" width="8.5" height="9.5"/><rect x="1622.4" y="631.1" width="8.5" height="9.5"/></g>
<circle cx="154.8" cy="151.6" r="139.5" fill="none" stroke="#000" stroke-width="4"/>
<circle cx="720.9" cy="150.9" r="139.5" fill="none" stroke="#000" stroke-width="4"/>
<circle cx="1033.5" cy="157.0" r="139.5" fill="none" stroke="#000" stroke-width="4"/>
<circle cx="1599.6" cy="161.8" r="139.5" fill="none" stroke="#000" stroke-width="4"/>
<circle cx="154.7" cy="512.0" r="139.5" fill="none" stroke="#000" stroke-width="4"/>
<circle cx="720.5" cy="514.4" r="139.5" fill="none" stroke="#000" stroke-width="4"/>
<circle cx="1032.0" cy="510.7" r="139.5" fill="none" stroke="#000" stroke-width="4"/>
<circle cx="1598.7" cy="512.4" r="139.5" fill="none" stroke="#000" stroke-width="4"/>
<polygon points="16.0,151.3 32.0,142.6 32.0,148.4 277.8,148.4 277.8,142.6 293.8,151.3 277.8,160.0 277.8,154.2 32.0,154.2 32.0,160.0" fill="#000"/>
<polygon points="295.6,151.4 311.6,142.7 311.6,148.5 564.0,148.3 564.0,142.5 580.0,151.2 564.0,159.9 564.0,154.1 311.6,154.3 311.6,160.1" fill="#000"/>
<polygon points="583.4,150.5 599.4,141.8 599.4,147.6 845.2,147.1 845.2,141.3 861.2,150.0 845.2,158.7 845.2,152.9 599.4,153.4 599.4,159.2" fill="#000"/>
<polygon points="895.8,155.2 911.8,146.5 911.8,152.3 1155.2,152.1 1155.2,146.3 1171.2,155.0 1155.2,163.7 1155.2,157.9 911.8,158.1 911.8,163.9" fill="#000"/>
<polygon points="1175.1,157.0 1191.0,148.2 1191.1,154.0 1443.9,151.8 1443.8,146.0 1459.9,154.6 1444.0,163.4 1443.9,157.6 1191.1,159.8 1191.2,165.6" fill="#000"/>
<polygon points="1462.1,153.0 1478.0,144.2 1478.1,150.0 1720.4,148.0 1720.3,142.2 1736.4,150.8 1720.5,159.6 1720.4,153.8 1478.1,155.8 1478.2,161.6" fill="#000"/>
<polygon points="13.5,511.3 29.5,502.6 29.5,508.4 276.3,508.4 276.3,502.6 292.3,511.3 276.3,520.0 276.3,514.2 29.5,514.2 29.5,520.0" fill="#000"/>
<polygon points="295.9,511.6 311.9,502.9 311.9,508.7 563.0,508.0 563.0,502.2 579.0,510.9 563.0,519.6 563.0,513.8 311.9,514.5 311.9,520.3" fill="#000"/>
<polygon points="580.5,511.0 596.6,502.5 596.5,508.3 843.3,512.2 843.4,506.4 859.3,515.3 843.2,523.8 843.3,518.0 596.5,514.1 596.4,519.9" fill="#000"/>
<polygon points="891.8,512.8 907.8,504.0 907.8,509.8 1153.9,509.1 1153.9,503.3 1169.9,511.9 1153.9,520.7 1153.9,514.9 907.8,515.6 907.8,521.4" fill="#000"/>
<polygon points="1173.2,510.6 1189.2,501.9 1189.2,507.7 1440.3,507.5 1440.3,501.7 1456.3,510.4 1440.3,519.1 1440.3,513.3 1189.2,513.5 1189.2,519.3" fill="#000"/>
<polygon points="1461.2,512.6 1477.2,503.9 1477.2,509.7 1720.3,509.9 1720.3,504.1 1736.3,512.8 1720.3,521.5 1720.3,515.7 1477.2,515.5 1477.2,521.3" fill="#000"/>
<polygon points="839.9,42.5 884.9,42.5 884.9,31.0 918.9,48.2 884.9,65.5 884.9,53.9 839.9,53.9" fill="#000"/>
<polygon points="1698.8,300.2 1698.8,357.0 1710.4,357.0 1692.9,391.0 1675.4,357.0 1687.1,357.0 1687.1,300.2" fill="#000"/>
<polygon points="894.6,631.5 849.8,631.5 849.8,643.0 815.8,625.8 849.8,608.5 849.8,620.1 894.6,620.1" fill="#000"/>
<line x1="880.6" y1="322" x2="880.6" y2="275" stroke="#000" stroke-width="5.6"/>
<polygon points="871.8,275.5 889.2,275.5 880.5,258.1" fill="#000"/>
<line x1="886" y1="336.2" x2="951.5" y2="336.2" stroke="#000" stroke-width="5.2"/>
<polygon points="951,327.8 951,344.8 967.6,336.3" fill="#000"/>
<circle cx="876.8" cy="333.9" r="11.1" fill="#fff" stroke="#000" stroke-width="8"/>
<g style="white-space:pre"><text transform="translate(2.09 30.80) scale(1.0130 1)" font-size="37.81" fill="#000">(a)</text><text transform="translate(392.29 63.60) scale(0.9688 1)" font-size="49.51" fill="#000"><tspan font-style="italic">t</tspan></text><text transform="translate(1226.37 70.60) scale(0.9958 1)" font-size="46.09" fill="#000"><tspan font-style="italic">t</tspan> + <tspan font-style="italic">T/4</tspan></text><text transform="translate(335.08 431.10) scale(0.9702 1)" font-size="47.06" fill="#000"><tspan font-style="italic">t</tspan> + <tspan font-style="italic">3T/4</tspan></text><text transform="translate(1232.71 427.10) scale(0.9797 1)" font-size="45.96" fill="#000"><tspan font-style="italic">t</tspan> + <tspan font-style="italic">T/2</tspan></text><text transform="translate(58.19 116.70) scale(0.9450 1)" font-size="40.84" fill="#000">SHNO1</text><text transform="translate(624.20 116.40) scale(0.9794 1)" font-size="39.10" fill="#000">SHNO2</text><text transform="translate(933.59 116.40) scale(0.9754 1)" font-size="39.54" fill="#000">SHNO1</text><text transform="translate(1499.80 116.60) scale(0.9543 1)" font-size="39.97" fill="#000">SHNO2</text><text transform="translate(58.39 474.80) scale(0.9871 1)" font-size="39.10" fill="#000">SHNO1</text><text transform="translate(624.09 475.30) scale(0.9548 1)" font-size="40.26" fill="#000">SHNO2</text><text transform="translate(933.59 475.30) scale(0.9762 1)" font-size="39.54" fill="#000">SHNO1</text><text transform="translate(1499.80 474.90) scale(0.9756 1)" font-size="39.10" fill="#000">SHNO2</text><text transform="translate(88.38 201.90) scale(0.9767 1)" font-size="39.24" fill="#000">150 nm</text><text transform="translate(657.27 200.70) scale(0.9790 1)" font-size="39.24" fill="#000">150 nm</text><text transform="translate(967.89 201.70) scale(0.9657 1)" font-size="39.54" fill="#000">150 nm</text><text transform="translate(1546.30 198.40) scale(0.9742 1)" font-size="39.10" fill="#000">150 nm</text><text transform="translate(85.89 561.30) scale(0.9987 1)" font-size="38.23" fill="#000">150 nm</text><text transform="translate(655.18 556.20) scale(0.9520 1)" font-size="40.26" fill="#000">150 nm</text><text transform="translate(969.29 556.80) scale(0.9498 1)" font-size="40.26" fill="#000">150 nm</text><text transform="translate(1535.38 556.10) scale(0.9796 1)" font-size="39.10" fill="#000">150 nm</text><text transform="translate(353.66 202.50) scale(0.9883 1)" font-size="39.24" fill="#000">200 nm</text><text transform="translate(1229.57 202.70) scale(1.0040 1)" font-size="38.24" fill="#000">200 nm</text><text transform="translate(354.07 561.80) scale(1.0026 1)" font-size="38.38" fill="#000">200 nm</text><text transform="translate(1229.46 561.50) scale(0.9858 1)" font-size="39.10" fill="#000">200 nm</text><text transform="translate(866.75 248.20) scale(0.8994 1)" font-size="35.02" fill="#000" stroke="#000" stroke-width="0.7">y</text><text transform="translate(978.78 345.00) scale(0.9426 1)" font-size="34.45" fill="#000" stroke="#000" stroke-width="0.7">x</text><text transform="translate(830.30 343.90) scale(1.0890 1)" font-size="34.45" fill="#000" stroke="#000" stroke-width="0.5">z</text></g>
<line x1="266.0" y1="708.7" x2="266.0" y2="1143.2" stroke="#d9d9d9" stroke-width="1.2"/><line x1="369.1" y1="708.7" x2="369.1" y2="1143.2" stroke="#d9d9d9" stroke-width="1.2"/><line x1="472.3" y1="708.7" x2="472.3" y2="1143.2" stroke="#d9d9d9" stroke-width="1.2"/><line x1="575.4" y1="708.7" x2="575.4" y2="1143.2" stroke="#d9d9d9" stroke-width="1.2"/><line x1="678.5" y1="708.7" x2="678.5" y2="1143.2" stroke="#d9d9d9" stroke-width="1.2"/><polyline points="162.9,1132.5 230.0,1128.5 287.5,1124.0 320.5,1124.4 339.0,1116.3 357.0,1102.3 372.8,1069.0 391.0,1024.5 408.0,986.3 425.9,996.8 442.4,753.5 459.7,1136.0 476.8,1023.5 494.0,1099.0 512.0,1109.0 528.0,1109.7 546.1,1121.7 560.1,1120.1 580.1,1124.5 614.1,1127.1 678.1,1131.1 781.6,1133.7" fill="none" stroke="#4453a8" stroke-width="6.6" stroke-linejoin="round" stroke-linecap="butt"/><polyline points="162.9,1139.0 320.5,1133.8 339.0,1128.0 356.4,1136.2 373.5,1111.8 390.6,1103.0 407.5,1048.5 425.4,881.0 442.4,800.5 459.6,1031.0 477.0,997.0 494.0,1078.1 511.0,1081.1 528.0,1100.1 546.1,1113.1 563.1,1125.1 580.1,1132.1 598.1,1135.7 640.0,1135.1 720.2,1137.1 781.6,1139.1" fill="none" stroke="#d42329" stroke-width="6.6" stroke-linejoin="round" stroke-linecap="butt"/><line x1="442.7" y1="769.0" x2="442.7" y2="1143.2" stroke="#000" stroke-width="3.6" stroke-dasharray="7 5"/><rect x="162.9" y="708.7" width="618.7" height="434.5" fill="none" stroke="#000" stroke-width="2.4"/><line x1="162.9" y1="1143.2" x2="162.9" y2="1152.2" stroke="#000" stroke-width="2.6"/><line x1="183.5" y1="1143.2" x2="183.5" y2="1147.8" stroke="#000" stroke-width="2.6"/><line x1="204.1" y1="1143.2" x2="204.1" y2="1147.8" stroke="#000" stroke-width="2.6"/><line x1="224.8" y1="1143.2" x2="224.8" y2="1147.8" stroke="#000" stroke-width="2.6"/><line x1="245.4" y1="1143.2" x2="245.4" y2="1147.8" stroke="#000" stroke-width="2.6"/><line x1="266.0" y1="1143.2" x2="266.0" y2="1152.2" stroke="#000" stroke-width="2.6"/><line x1="286.6" y1="1143.2" x2="286.6" y2="1147.8" stroke="#000" stroke-width="2.6"/><line x1="307.3" y1="1143.2" x2="307.3" y2="1147.8" stroke="#000" stroke-width="2.6"/><line x1="327.9" y1="1143.2" x2="327.9" y2="1147.8" stroke="#000" stroke-width="2.6"/><line x1="348.5" y1="1143.2" x2="348.5" y2="1147.8" stroke="#000" stroke-width="2.6"/><line x1="369.1" y1="1143.2" x2="369.1" y2="1152.2" stroke="#000" stroke-width="2.6"/><line x1="389.8" y1="1143.2" x2="389.8" y2="1147.8" stroke="#000" stroke-width="2.6"/><line x1="410.4" y1="1143.2" x2="410.4" y2="1147.8" stroke="#000" stroke-width="2.6"/><line x1="431.0" y1="1143.2" x2="431.0" y2="1147.8" stroke="#000" stroke-width="2.6"/><line x1="451.6" y1="1143.2" x2="451.6" y2="1147.8" stroke="#000" stroke-width="2.6"/><line x1="472.3" y1="1143.2" x2="472.3" y2="1152.2" stroke="#000" stroke-width="2.6"/><line x1="492.9" y1="1143.2" x2="492.9" y2="1147.8" stroke="#000" stroke-width="2.6"/><line x1="513.5" y1="1143.2" x2="513.5" y2="1147.8" stroke="#000" stroke-width="2.6"/><line x1="534.1" y1="1143.2" x2="534.1" y2="1147.8" stroke="#000" stroke-width="2.6"/><line x1="554.8" y1="1143.2" x2="554.8" y2="1147.8" stroke="#000" stroke-width="2.6"/><line x1="575.4" y1="1143.2" x2="575.4" y2="1152.2" stroke="#000" stroke-width="2.6"/><line x1="596.0" y1="1143.2" x2="596.0" y2="1147.8" stroke="#000" stroke-width="2.6"/><line x1="616.6" y1="1143.2" x2="616.6" y2="1147.8" stroke="#000" stroke-width="2.6"/><line x1="637.3" y1="1143.2" x2="637.3" y2="1147.8" stroke="#000" stroke-width="2.6"/><line x1="657.9" y1="1143.2" x2="657.9" y2="1147.8" stroke="#000" stroke-width="2.6"/><line x1="678.5" y1="1143.2" x2="678.5" y2="1152.2" stroke="#000" stroke-width="2.6"/><line x1="699.1" y1="1143.2" x2="699.1" y2="1147.8" stroke="#000" stroke-width="2.6"/><line x1="719.7" y1="1143.2" x2="719.7" y2="1147.8" stroke="#000" stroke-width="2.6"/><line x1="740.4" y1="1143.2" x2="740.4" y2="1147.8" stroke="#000" stroke-width="2.6"/><line x1="761.0" y1="1143.2" x2="761.0" y2="1147.8" stroke="#000" stroke-width="2.6"/><line x1="781.6" y1="1143.2" x2="781.6" y2="1152.2" stroke="#000" stroke-width="2.6"/><line x1="162.9" y1="1143.2" x2="155.9" y2="1143.2" stroke="#000" stroke-width="2.6"/><line x1="162.9" y1="1112.2" x2="159.1" y2="1112.2" stroke="#000" stroke-width="2.6"/><line x1="162.9" y1="1081.1" x2="155.9" y2="1081.1" stroke="#000" stroke-width="2.6"/><line x1="162.9" y1="1050.1" x2="159.1" y2="1050.1" stroke="#000" stroke-width="2.6"/><line x1="162.9" y1="1019.1" x2="155.9" y2="1019.1" stroke="#000" stroke-width="2.6"/><line x1="162.9" y1="988.0" x2="159.1" y2="988.0" stroke="#000" stroke-width="2.6"/><line x1="162.9" y1="957.0" x2="155.9" y2="957.0" stroke="#000" stroke-width="2.6"/><line x1="162.9" y1="926.0" x2="159.1" y2="926.0" stroke="#000" stroke-width="2.6"/><line x1="162.9" y1="894.9" x2="155.9" y2="894.9" stroke="#000" stroke-width="2.6"/><line x1="162.9" y1="863.9" x2="159.1" y2="863.9" stroke="#000" stroke-width="2.6"/><line x1="162.9" y1="832.9" x2="155.9" y2="832.9" stroke="#000" stroke-width="2.6"/><line x1="162.9" y1="801.8" x2="159.1" y2="801.8" stroke="#000" stroke-width="2.6"/><line x1="162.9" y1="770.8" x2="155.9" y2="770.8" stroke="#000" stroke-width="2.6"/><line x1="162.9" y1="739.7" x2="159.1" y2="739.7" stroke="#000" stroke-width="2.6"/><line x1="162.9" y1="708.7" x2="155.9" y2="708.7" stroke="#000" stroke-width="2.6"/><line x1="172.1" y1="732.8" x2="200.8" y2="732.8" stroke="#4453a8" stroke-width="7"/><line x1="172.8" y1="767.6" x2="200.8" y2="767.6" stroke="#d42329" stroke-width="7"/>
<line x1="1100.9" y1="715.6" x2="1100.9" y2="1135.4" stroke="#d9d9d9" stroke-width="1.2"/><line x1="1192.5" y1="715.6" x2="1192.5" y2="1135.4" stroke="#d9d9d9" stroke-width="1.2"/><line x1="1284.1" y1="715.6" x2="1284.1" y2="1135.4" stroke="#d9d9d9" stroke-width="1.2"/><line x1="1375.7" y1="715.6" x2="1375.7" y2="1135.4" stroke="#d9d9d9" stroke-width="1.2"/><line x1="1467.3" y1="715.6" x2="1467.3" y2="1135.4" stroke="#d9d9d9" stroke-width="1.2"/><line x1="1558.9" y1="715.6" x2="1558.9" y2="1135.4" stroke="#d9d9d9" stroke-width="1.2"/><polyline points="1012.8,1125.1 1042.0,1122.3 1058.5,1121.6 1073.6,1120.0 1090.1,1123.0 1105.2,1122.3 1120.3,1117.5 1134.7,1109.0 1150.5,1122.3 1166.0,1083.5 1180.6,1086.7 1196.5,1073.3 1211.2,1034.3 1226.9,785.5 1241.8,881.1 1257.7,1040.3 1272.8,1079.3 1287.5,1097.0 1303.4,1117.7 1318.7,1093.4 1333.8,1114.8 1349.2,1116.5 1363.8,1115.3 1379.6,1117.7 1394.7,1120.6 1410.1,1123.1 1440.0,1125.5 1500.0,1127.5 1560.0,1129.0 1631.0,1131.0" fill="none" stroke="#4453a8" stroke-width="6.6" stroke-linejoin="round" stroke-linecap="butt"/><polyline points="1012.8,1131.9 1101.0,1129.9 1142.2,1127.8 1176.5,1126.4 1197.1,1123.7 1211.0,1121.4 1226.6,1102.0 1242.0,1127.6 1257.7,1118.3 1273.7,1106.2 1288.3,1059.2 1302.9,871.7 1318.7,865.6 1333.8,1002.0 1349.2,1061.7 1363.8,1032.4 1379.6,1013.0 1394.7,1049.0 1410.1,1056.3 1425.2,1062.9 1440.5,1080.0 1455.6,1093.4 1471.0,1102.6 1486.3,1106.7 1501.4,1112.4 1516.5,1117.2 1531.9,1121.4 1546.5,1125.0 1562.3,1127.5 1577.4,1128.7 1592.8,1129.4 1607.4,1129.9 1631.0,1130.4" fill="none" stroke="#d42329" stroke-width="6.6" stroke-linejoin="round" stroke-linecap="butt"/><line x1="1228.3" y1="800.0" x2="1228.3" y2="1135.4" stroke="#000" stroke-width="3.6" stroke-dasharray="7 5"/><line x1="1318.6" y1="872.0" x2="1318.6" y2="1135.4" stroke="#000" stroke-width="3.6" stroke-dasharray="7 5"/><rect x="1012.8" y="715.6" width="618.2" height="419.8" fill="none" stroke="#000" stroke-width="2.4"/><line x1="1027.6" y1="1135.4" x2="1027.6" y2="1140.0" stroke="#000" stroke-width="2.6"/><line x1="1045.9" y1="1135.4" x2="1045.9" y2="1140.0" stroke="#000" stroke-width="2.6"/><line x1="1064.3" y1="1135.4" x2="1064.3" y2="1140.0" stroke="#000" stroke-width="2.6"/><line x1="1082.6" y1="1135.4" x2="1082.6" y2="1140.0" stroke="#000" stroke-width="2.6"/><line x1="1100.9" y1="1135.4" x2="1100.9" y2="1144.4" stroke="#000" stroke-width="2.6"/><line x1="1119.2" y1="1135.4" x2="1119.2" y2="1140.0" stroke="#000" stroke-width="2.6"/><line x1="1137.5" y1="1135.4" x2="1137.5" y2="1140.0" stroke="#000" stroke-width="2.6"/><line x1="1155.9" y1="1135.4" x2="1155.9" y2="1140.0" stroke="#000" stroke-width="2.6"/><line x1="1174.2" y1="1135.4" x2="1174.2" y2="1140.0" stroke="#000" stroke-width="2.6"/><line x1="1192.5" y1="1135.4" x2="1192.5" y2="1144.4" stroke="#000" stroke-width="2.6"/><line x1="1210.8" y1="1135.4" x2="1210.8" y2="1140.0" stroke="#000" stroke-width="2.6"/><line x1="1229.1" y1="1135.4" x2="1229.1" y2="1140.0" stroke="#000" stroke-width="2.6"/><line x1="1247.5" y1="1135.4" x2="1247.5" y2="1140.0" stroke="#000" stroke-width="2.6"/><line x1="1265.8" y1="1135.4" x2="1265.8" y2="1140.0" stroke="#000" stroke-width="2.6"/><line x1="1284.1" y1="1135.4" x2="1284.1" y2="1144.4" stroke="#000" stroke-width="2.6"/><line x1="1302.4" y1="1135.4" x2="1302.4" y2="1140.0" stroke="#000" stroke-width="2.6"/><line x1="1320.7" y1="1135.4" x2="1320.7" y2="1140.0" stroke="#000" stroke-width="2.6"/><line x1="1339.1" y1="1135.4" x2="1339.1" y2="1140.0" stroke="#000" stroke-width="2.6"/><line x1="1357.4" y1="1135.4" x2="1357.4" y2="1140.0" stroke="#000" stroke-width="2.6"/><line x1="1375.7" y1="1135.4" x2="1375.7" y2="1144.4" stroke="#000" stroke-width="2.6"/><line x1="1394.0" y1="1135.4" x2="1394.0" y2="1140.0" stroke="#000" stroke-width="2.6"/><line x1="1412.3" y1="1135.4" x2="1412.3" y2="1140.0" stroke="#000" stroke-width="2.6"/><line x1="1430.7" y1="1135.4" x2="1430.7" y2="1140.0" stroke="#000" stroke-width="2.6"/><line x1="1449.0" y1="1135.4" x2="1449.0" y2="1140.0" stroke="#000" stroke-width="2.6"/><line x1="1467.3" y1="1135.4" x2="1467.3" y2="1144.4" stroke="#000" stroke-width="2.6"/><line x1="1485.6" y1="1135.4" x2="1485.6" y2="1140.0" stroke="#000" stroke-width="2.6"/><line x1="1503.9" y1="1135.4" x2="1503.9" y2="1140.0" stroke="#000" stroke-width="2.6"/><line x1="1522.3" y1="1135.4" x2="1522.3" y2="1140.0" stroke="#000" stroke-width="2.6"/><line x1="1540.6" y1="1135.4" x2="1540.6" y2="1140.0" stroke="#000" stroke-width="2.6"/><line x1="1558.9" y1="1135.4" x2="1558.9" y2="1144.4" stroke="#000" stroke-width="2.6"/><line x1="1577.2" y1="1135.4" x2="1577.2" y2="1140.0" stroke="#000" stroke-width="2.6"/><line x1="1595.5" y1="1135.4" x2="1595.5" y2="1140.0" stroke="#000" stroke-width="2.6"/><line x1="1613.9" y1="1135.4" x2="1613.9" y2="1140.0" stroke="#000" stroke-width="2.6"/><line x1="1012.8" y1="1135.4" x2="1005.8" y2="1135.4" stroke="#000" stroke-width="2.6"/><line x1="1012.8" y1="1105.4" x2="1009.0" y2="1105.4" stroke="#000" stroke-width="2.6"/><line x1="1012.8" y1="1075.4" x2="1005.8" y2="1075.4" stroke="#000" stroke-width="2.6"/><line x1="1012.8" y1="1045.4" x2="1009.0" y2="1045.4" stroke="#000" stroke-width="2.6"/><line x1="1012.8" y1="1015.5" x2="1005.8" y2="1015.5" stroke="#000" stroke-width="2.6"/><line x1="1012.8" y1="985.5" x2="1009.0" y2="985.5" stroke="#000" stroke-width="2.6"/><line x1="1012.8" y1="955.5" x2="1005.8" y2="955.5" stroke="#000" stroke-width="2.6"/><line x1="1012.8" y1="925.5" x2="1009.0" y2="925.5" stroke="#000" stroke-width="2.6"/><line x1="1012.8" y1="895.5" x2="1005.8" y2="895.5" stroke="#000" stroke-width="2.6"/><line x1="1012.8" y1="865.5" x2="1009.0" y2="865.5" stroke="#000" stroke-width="2.6"/><line x1="1012.8" y1="835.6" x2="1005.8" y2="835.6" stroke="#000" stroke-width="2.6"/><line x1="1012.8" y1="805.6" x2="1009.0" y2="805.6" stroke="#000" stroke-width="2.6"/><line x1="1012.8" y1="775.6" x2="1005.8" y2="775.6" stroke="#000" stroke-width="2.6"/><line x1="1012.8" y1="745.6" x2="1009.0" y2="745.6" stroke="#000" stroke-width="2.6"/><line x1="1012.8" y1="715.6" x2="1005.8" y2="715.6" stroke="#000" stroke-width="2.6"/><line x1="1024.8" y1="740.6" x2="1053.2" y2="740.6" stroke="#4453a8" stroke-width="7"/><line x1="1024.8" y1="777.2" x2="1053.2" y2="777.2" stroke="#d42329" stroke-width="7"/>
<g style="white-space:pre"><text transform="translate(6.02 710.60) scale(1.0613 1)" font-size="37.54" fill="#000">(b)</text><text transform="translate(139.30 1152.50) scale(0.7146 1)" font-size="31.51" fill="#000" stroke="#000" stroke-width="0.7">0</text><text transform="translate(107.70 1090.43) scale(0.7146 1)" font-size="31.51" fill="#000" stroke="#000" stroke-width="0.7">0.05</text><text transform="translate(123.78 1028.36) scale(0.7146 1)" font-size="31.51" fill="#000" stroke="#000" stroke-width="0.7">0.1</text><text transform="translate(107.70 966.29) scale(0.7146 1)" font-size="31.51" fill="#000" stroke="#000" stroke-width="0.7">0.15</text><text transform="translate(120.50 904.22) scale(0.7146 1)" font-size="31.51" fill="#000" stroke="#000" stroke-width="0.7">0.2</text><text transform="translate(107.70 842.15) scale(0.7146 1)" font-size="31.51" fill="#000" stroke="#000" stroke-width="0.7">0.25</text><text transform="translate(120.41 780.08) scale(0.7146 1)" font-size="31.51" fill="#000" stroke="#000" stroke-width="0.7">0.3</text><text transform="translate(107.70 718.01) scale(0.7146 1)" font-size="31.51" fill="#000" stroke="#000" stroke-width="0.7">0.35</text><text transform="translate(147.27 1182.80) scale(0.7027 1)" font-size="32.08" fill="#000" stroke="#000" stroke-width="0.7">6.2</text><text transform="translate(250.00 1182.80) scale(0.7027 1)" font-size="32.08" fill="#000" stroke="#000" stroke-width="0.7">6.4</text><text transform="translate(353.47 1182.80) scale(0.7027 1)" font-size="32.08" fill="#000" stroke="#000" stroke-width="0.7">6.6</text><text transform="translate(456.53 1182.80) scale(0.7027 1)" font-size="32.08" fill="#000" stroke="#000" stroke-width="0.7">6.8</text><text transform="translate(569.12 1182.80) scale(0.7027 1)" font-size="32.08" fill="#000" stroke="#000" stroke-width="0.7">7</text><text transform="translate(662.80 1182.80) scale(0.7027 1)" font-size="32.08" fill="#000" stroke="#000" stroke-width="0.7">7.2</text><text transform="translate(765.53 1182.80) scale(0.7027 1)" font-size="32.08" fill="#000" stroke="#000" stroke-width="0.7">7.4</text><text transform="translate(283.01 1222.40) scale(0.6683 1)" font-size="35.47" fill="#000" stroke="#000" stroke-width="0.7">Instantaneous Frequency, <tspan font-style="italic">f</tspan> (GHz)</text><text transform="translate(207.66 742.60) scale(0.7019 1)" font-size="31.51" fill="#000" stroke="#000" stroke-width="0.7">SHNO 1</text><text transform="translate(207.67 782.00) scale(0.6807 1)" font-size="32.08" fill="#000" stroke="#000" stroke-width="0.7">SHNO 2</text><text transform="translate(372.19 744.60) scale(0.7181 1)" font-size="31.19" fill="#000" stroke="#000" stroke-width="0.7"><tspan font-style="italic">f</tspan><tspan font-style="italic" font-size="21.83" dy="9.36">1</tspan><tspan dy="-9.36"> = </tspan><tspan font-style="italic">f</tspan><tspan font-style="italic" font-size="21.83" dy="9.36">2</tspan><tspan dy="-9.36"> = 6.74 GHz</tspan></text><text transform="translate(847.15 716.00) scale(1.0558 1)" font-size="37.12" fill="#000">(c)</text><text transform="translate(989.70 1144.40) scale(0.7353 1)" font-size="30.36" fill="#000" stroke="#000" stroke-width="0.7">0</text><text transform="translate(958.37 1084.43) scale(0.7353 1)" font-size="30.36" fill="#000" stroke="#000" stroke-width="0.7">0.05</text><text transform="translate(974.31 1024.46) scale(0.7353 1)" font-size="30.36" fill="#000" stroke="#000" stroke-width="0.7">0.1</text><text transform="translate(958.37 964.49) scale(0.7353 1)" font-size="30.36" fill="#000" stroke="#000" stroke-width="0.7">0.15</text><text transform="translate(971.06 904.52) scale(0.7353 1)" font-size="30.36" fill="#000" stroke="#000" stroke-width="0.7">0.2</text><text transform="translate(958.37 844.55) scale(0.7353 1)" font-size="30.36" fill="#000" stroke="#000" stroke-width="0.7">0.25</text><text transform="translate(970.97 784.58) scale(0.7353 1)" font-size="30.36" fill="#000" stroke="#000" stroke-width="0.7">0.3</text><text transform="translate(958.37 724.61) scale(0.7353 1)" font-size="30.36" fill="#000" stroke="#000" stroke-width="0.7">0.35</text><text transform="translate(1085.00 1173.60) scale(0.7232 1)" font-size="30.93" fill="#000" stroke="#000" stroke-width="0.7">6.4</text><text transform="translate(1176.94 1173.60) scale(0.7232 1)" font-size="30.93" fill="#000" stroke="#000" stroke-width="0.7">6.6</text><text transform="translate(1268.48 1173.60) scale(0.7232 1)" font-size="30.93" fill="#000" stroke="#000" stroke-width="0.7">6.8</text><text transform="translate(1369.49 1173.60) scale(0.7232 1)" font-size="30.93" fill="#000" stroke="#000" stroke-width="0.7">7</text><text transform="translate(1451.72 1173.60) scale(0.7232 1)" font-size="30.93" fill="#000" stroke="#000" stroke-width="0.7">7.2</text><text transform="translate(1542.93 1173.60) scale(0.7232 1)" font-size="30.93" fill="#000" stroke="#000" stroke-width="0.7">7.4</text><text transform="translate(1132.21 1211.60) scale(0.7061 1)" font-size="33.72" fill="#000" stroke="#000" stroke-width="0.7">Instantaneous Frequency, <tspan font-style="italic">f</tspan> (GHz)</text><text transform="translate(1059.96 750.40) scale(0.7353 1)" font-size="30.08" fill="#000" stroke="#000" stroke-width="0.7">SHNO 1</text><text transform="translate(1059.97 787.60) scale(0.7250 1)" font-size="29.93" fill="#000" stroke="#000" stroke-width="0.7">SHNO 2</text><text transform="translate(1215.78 766.40) scale(0.7611 1)" font-size="29.67" fill="#000" stroke="#000" stroke-width="0.7"><tspan font-style="italic">f</tspan><tspan font-style="italic" font-size="20.77" dy="8.90">1</tspan><tspan dy="-8.90"> = 6.68 GHz</tspan></text><text transform="translate(1310.69 843.70) scale(0.7583 1)" font-size="29.67" fill="#000" stroke="#000" stroke-width="0.7"><tspan font-style="italic">f</tspan><tspan font-style="italic" font-size="20.77" dy="8.90">2</tspan><tspan dy="-8.90"> = 6.88 GHz</tspan></text></g>
<text transform="translate(98.00 1024.70) rotate(-90) translate(-2.25 0) scale(1.2829 1)" font-size="26.16" stroke="#000" stroke-width="0.5" style="white-space:pre">Intensity (a.u.)</text>
<text transform="translate(948.50 1010.20) rotate(-90) translate(-2.14 0) scale(1.2789 1)" font-size="25.00" stroke="#000" stroke-width="0.5" style="white-space:pre">Intensity (a.u.)</text>
</svg>
</body></html>
